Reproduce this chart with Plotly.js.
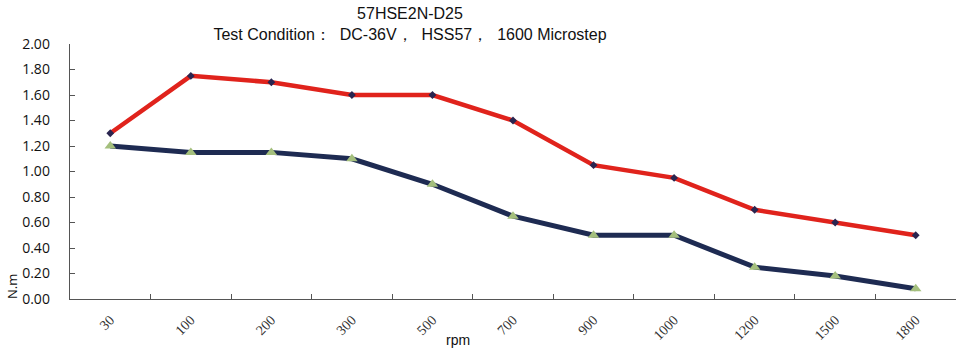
<!DOCTYPE html>
<html><head><meta charset="utf-8">
<script src="https://cdn.plot.ly/plotly-3.0.1.min.js"></script>
<style>html,body{margin:0;padding:0;background:#fff;}#chart{width:975px;height:350px;}</style>
</head><body><div id="chart"></div>
<script>
const categories = ['30','100','200','300','500','700','900','1000','1200','1500','1800'];
const seriesUpper = [1.30,1.75,1.70,1.60,1.60,1.40,1.05,0.95,0.70,0.60,0.50];
const seriesLower = [1.20,1.15,1.15,1.10,0.90,0.65,0.50,0.50,0.25,0.18,0.08];
const yTickVals = [0,0.2,0.4,0.6,0.8,1.0,1.2,1.4,1.6,1.8,2.0];
const yTickText = yTickVals.map(v => v.toFixed(2));

const traces = [
  {x: categories, y: seriesUpper, type:'scatter', mode:'lines+markers',
   line:{color:'#e0231c', width:4.5},
   marker:{symbol:'diamond', size:6, color:'#2a2550'}},
  {x: categories, y: seriesLower, type:'scatter', mode:'lines+markers',
   line:{color:'#1e2b52', width:5},
   marker:{symbol:'triangle-up', size:10, color:'#a4bf7d'}}
];
const layout = {
  width:975, height:350, showlegend:false,
  paper_bgcolor:'#fff', plot_bgcolor:'#fff',
  margin:{l:70, r:19, t:44, b:51},
  title:{text:'57HSE2N-D25<br>Test Condition：  DC-36V，  HSS57，  1600 Microstep',
    x:410/975, xanchor:'center', y:1-19/350, yanchor:'middle',
    font:{family:'Liberation Sans, Arial, sans-serif', size:16, color:'#111'}},
  xaxis:{type:'category', range:[-0.5,10.5], tickson:'boundaries',
    showline:true, linecolor:'#555', linewidth:1.3, ticks:'inside', ticklen:5, tickcolor:'#555',
    showgrid:false, zeroline:false, tickangle:-45, ticklabelstandoff:6,
    tickfont:{family:'Liberation Serif, serif', size:14, color:'#333'}},
  yaxis:{range:[0,2], tickvals:yTickVals, ticktext:yTickText,
    showline:true, linecolor:'#555', linewidth:1.3, ticks:'inside', ticklen:5, tickcolor:'#555',
    showgrid:false, zeroline:false, ticklabelstandoff:16,
    tickfont:{family:'Open Sans, DejaVu Sans, sans-serif', size:14, color:'#111'}},
  annotations:[
    {text:'rpm', xref:'paper', yref:'paper', x:(458-70)/886, y:-(340-299)/255, xanchor:'center', yanchor:'middle',
     showarrow:false, font:{family:'Liberation Sans, Arial, sans-serif', size:14, color:'#111'}},
    {text:'N.m', xref:'paper', yref:'paper', x:-(70-12)/886, y:(299-287)/255, xanchor:'center', yanchor:'middle',
     textangle:-90, showarrow:false, font:{family:'Open Sans, DejaVu Sans, sans-serif', size:13, color:'#111'}}
  ]
};
Plotly.newPlot('chart', traces, layout, {displayModeBar:false, staticPlot:true});
</script></body></html>
